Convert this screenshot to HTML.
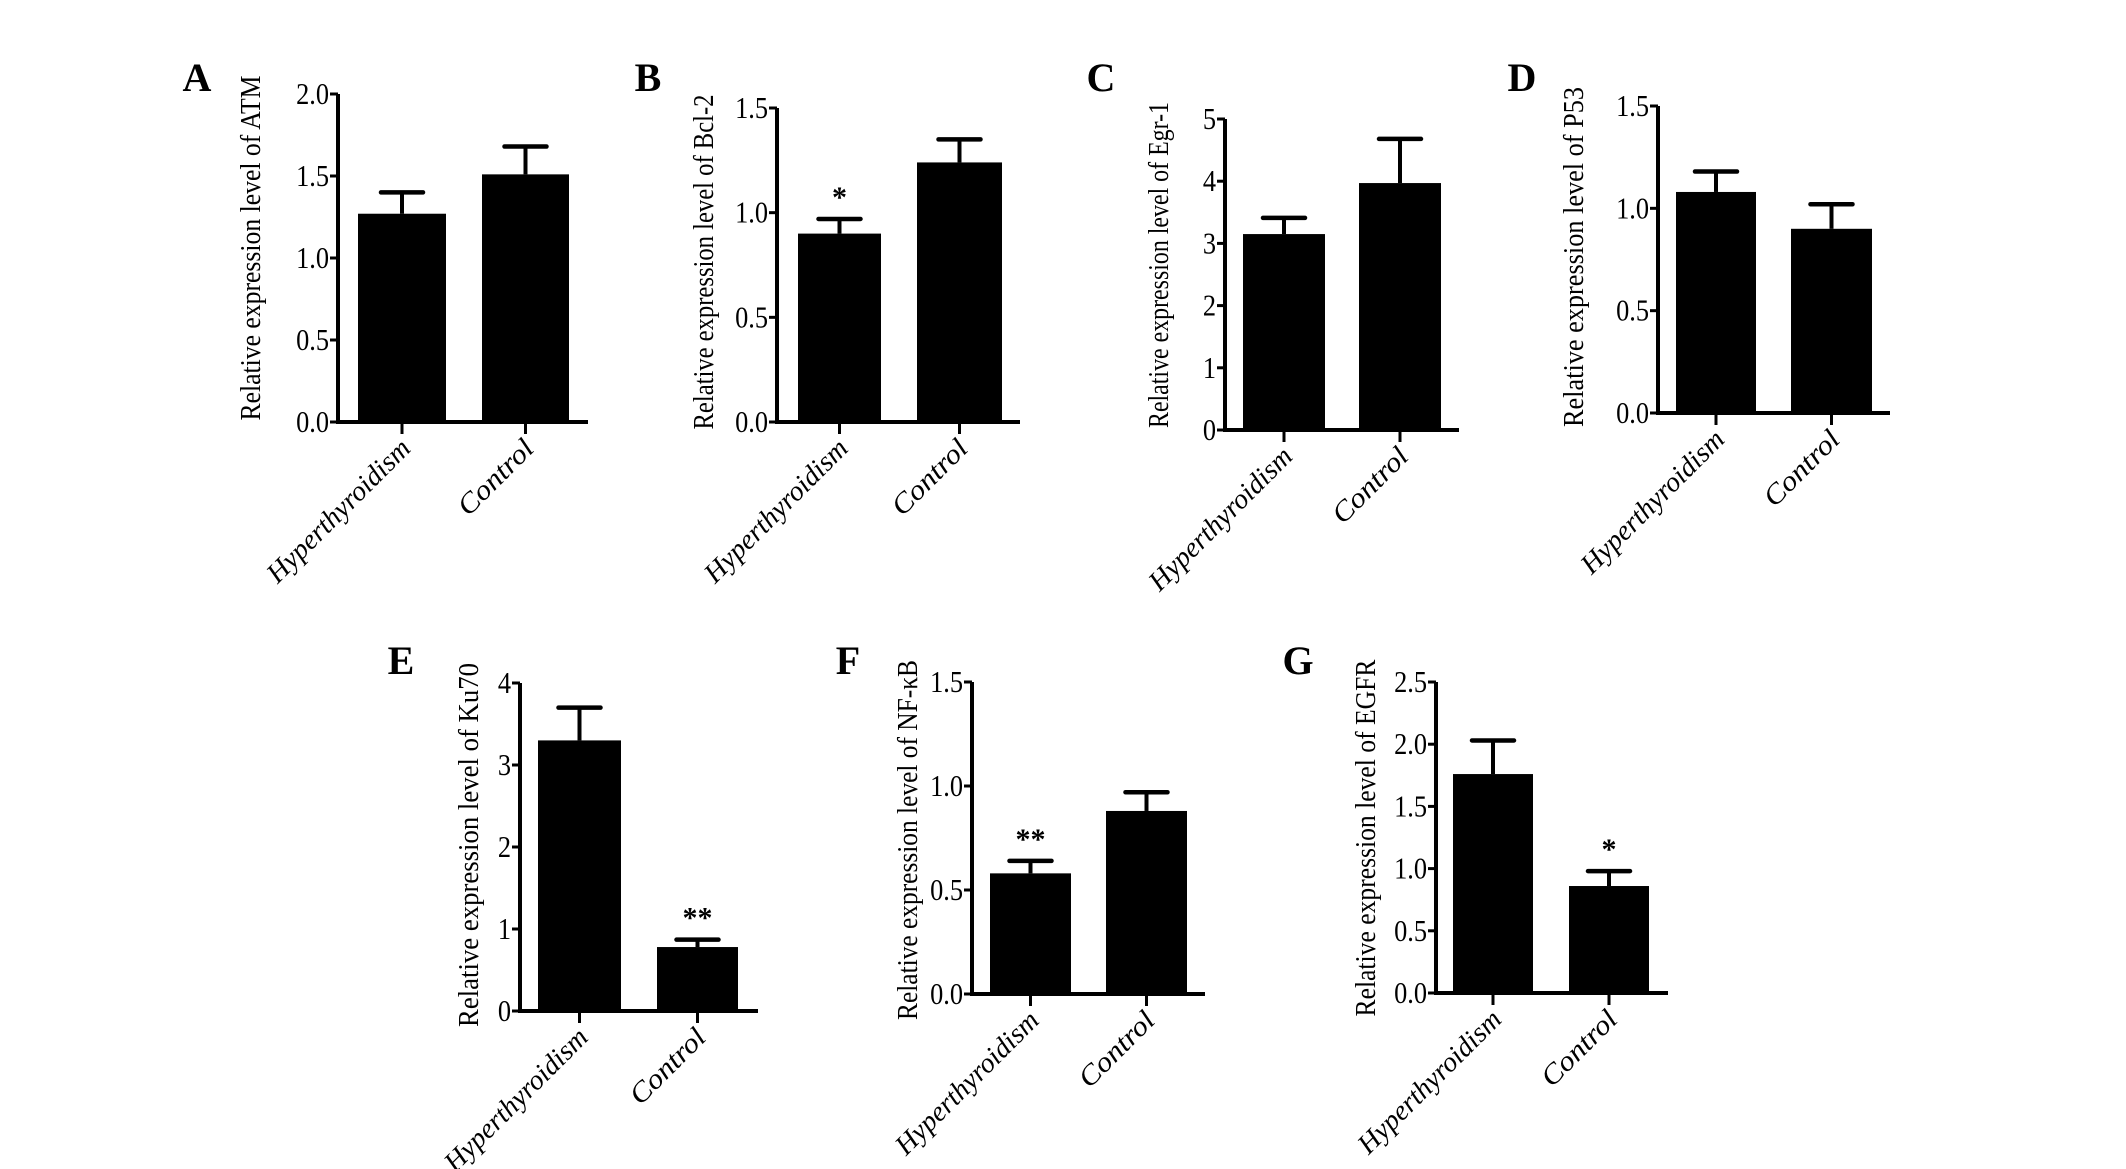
<!DOCTYPE html>
<html><head><meta charset="utf-8"><style>
html,body{margin:0;padding:0;background:#fff;}
svg{display:block;}
text{font-family:"Liberation Serif",serif;fill:#000;}
</style></head><body>
<svg id="fig" width="2126" height="1169" viewBox="0 0 2126 1169"></svg>
<script>
const categories=["Hyperthyroidism","Control"];
const atmValues=[1.27,1.51], atmErr=[0.13,0.17];
const bclValues=[0.90,1.24], bclErr=[0.07,0.11];
const egrValues=[3.15,3.97], egrErr=[0.26,0.71];
const p53Values=[1.08,0.90], p53Err=[0.10,0.12];
const kuValues=[3.30,0.78], kuErr=[0.40,0.09];
const nfValues=[0.58,0.88], nfErr=[0.06,0.09];
const egfrValues=[1.76,0.86], egfrErr=[0.27,0.12];
const atmTicks=["0.0","0.5","1.0","1.5","2.0"];
const bclTicks=["0.0","0.5","1.0","1.5"];
const egrTicks=["0","1","2","3","4","5"];
const p53Ticks=["0.0","0.5","1.0","1.5"];
const kuTicks=["0","1","2","3","4"];
const nfTicks=["0.0","0.5","1.0","1.5"];
const egfrTicks=["0.0","0.5","1.0","1.5","2.0","2.5"];

const panels=[
 {id:"a",letter:"A",lx:197,ly:77,ax:338,top:94,bot:422,end:588,tx:250,ty:248,tl:345,bars:[[358,446],[482,569]],vals:atmValues,err:atmErr,ticks:atmTicks,title:"Relative expression level of ATM",stars:["",""]},
 {id:"b",letter:"B",lx:648,ly:77,ax:777,top:108,bot:422,end:1020,tx:703,ty:262,tl:335,bars:[[798,881],[917,1002]],vals:bclValues,err:bclErr,ticks:bclTicks,title:"Relative expression level of Bcl-2",stars:["*",""]},
 {id:"c",letter:"C",lx:1101,ly:77,ax:1225,top:119,bot:430,end:1459,tx:1158,ty:265,tl:326,bars:[[1243,1325],[1359,1441]],vals:egrValues,err:egrErr,ticks:egrTicks,title:"Relative expression level of Egr-1",stars:["",""]},
 {id:"d",letter:"D",lx:1522,ly:77,ax:1658,top:106,bot:413,end:1890,tx:1573,ty:257,tl:340,bars:[[1676,1756],[1791,1872]],vals:p53Values,err:p53Err,ticks:p53Ticks,title:"Relative expression level of   P53",stars:["",""]},
 {id:"e",letter:"E",lx:401,ly:660,ax:520,top:683,bot:1011,end:758,tx:468,ty:845,tl:364,bars:[[538,621],[657,738]],vals:kuValues,err:kuErr,ticks:kuTicks,title:"Relative expression level of Ku70",stars:["","**"]},
 {id:"f",letter:"F",lx:848,ly:660,ax:972,top:682,bot:994,end:1205,tx:907,ty:840,tl:360,bars:[[990,1071],[1106,1187]],vals:nfValues,err:nfErr,ticks:nfTicks,title:"Relative expression level of NF-κB",stars:["**",""]},
 {id:"g",letter:"G",lx:1298,ly:660,ax:1436,top:682,bot:993,end:1668,tx:1365,ty:838,tl:357,bars:[[1453,1533],[1569,1649]],vals:egfrValues,err:egfrErr,ticks:egfrTicks,title:"Relative expression level of EGFR",stars:["","*"]}
];
const NS="http://www.w3.org/2000/svg";
const svg=document.getElementById("fig");
function mk(tag,attrs,parent){const e=document.createElementNS(NS,tag);for(const k in attrs)e.setAttribute(k,attrs[k]);parent.appendChild(e);return e;}
panels.forEach(p=>{
 const g=mk("g",{},svg);
 
 
 const maxV=parseFloat(p.ticks[p.ticks.length-1]);
 const y=v=>p.bot-(v/maxV)*(p.bot-p.top);
 const L=mk("text",{x:p.lx,y:p.ly+14,"font-size":40,"font-weight":"bold","text-anchor":"middle"},g);L.textContent=p.letter;
 
 
 const ya=mk("line",{x1:p.ax,y1:p.top,x2:p.ax,y2:p.bot+2,stroke:"#000","stroke-width":4},g);
 
 
 const xa=mk("line",{x1:p.ax-2,y1:p.bot,x2:p.end,y2:p.bot,stroke:"#000","stroke-width":4},g);
 
 
 p.ticks.forEach(t=>{
  const ty=y(parseFloat(t));
  mk("line",{x1:p.ax-8,y1:ty,x2:p.ax,y2:ty,stroke:"#000","stroke-width":3},g);
  const tt=mk("text",{x:0,y:0,"font-size":31,"text-anchor":"end",transform:`translate(${p.ax-9},${ty+10}) scale(0.85,1)`},g);
  tt.textContent=t;
  
  
 });
 const tl=mk("text",{x:0,y:0,"font-size":29,"text-anchor":"middle",textLength:p.tl,lengthAdjust:"spacingAndGlyphs",transform:`translate(${p.tx+10},${p.ty}) rotate(-90)`},g);
 tl.textContent=p.title;
 
 
 p.bars.forEach((b,i)=>{
  const cx=(b[0]+b[1])/2, v=p.vals[i], e=p.err[i];
  const ey=y(v+e);
  const el=mk("line",{x1:cx,y1:ey,x2:cx,y2:y(v),stroke:"#000","stroke-width":4},g);
  
  
  mk("line",{x1:cx-21,y1:ey,x2:cx+21,y2:ey,stroke:"#000","stroke-width":4.5,"stroke-linecap":"round"},g);
  const r=mk("rect",{x:b[0],y:y(v),width:b[1]-b[0],height:p.bot-y(v),fill:"#000"},g);
  
  
  mk("line",{x1:cx,y1:p.bot,x2:cx,y2:p.bot+12,stroke:"#000","stroke-width":3},g);
  const cl=mk("text",{x:0,y:0,"font-size":28,"font-style":"italic","text-anchor":"end",textLength:(i===0?190:95),lengthAdjust:"spacingAndGlyphs",transform:`translate(${cx+10},${p.bot+28}) rotate(-45)`},g);
  cl.textContent=categories[i];
  
  
  if(p.stars[i]){
   const st=mk("text",{x:cx,y:ey-12,"font-size":30,"font-weight":"bold","text-anchor":"middle"},g);
   st.textContent=p.stars[i];
   
   
  }
 });
});
</script>
</body></html>
